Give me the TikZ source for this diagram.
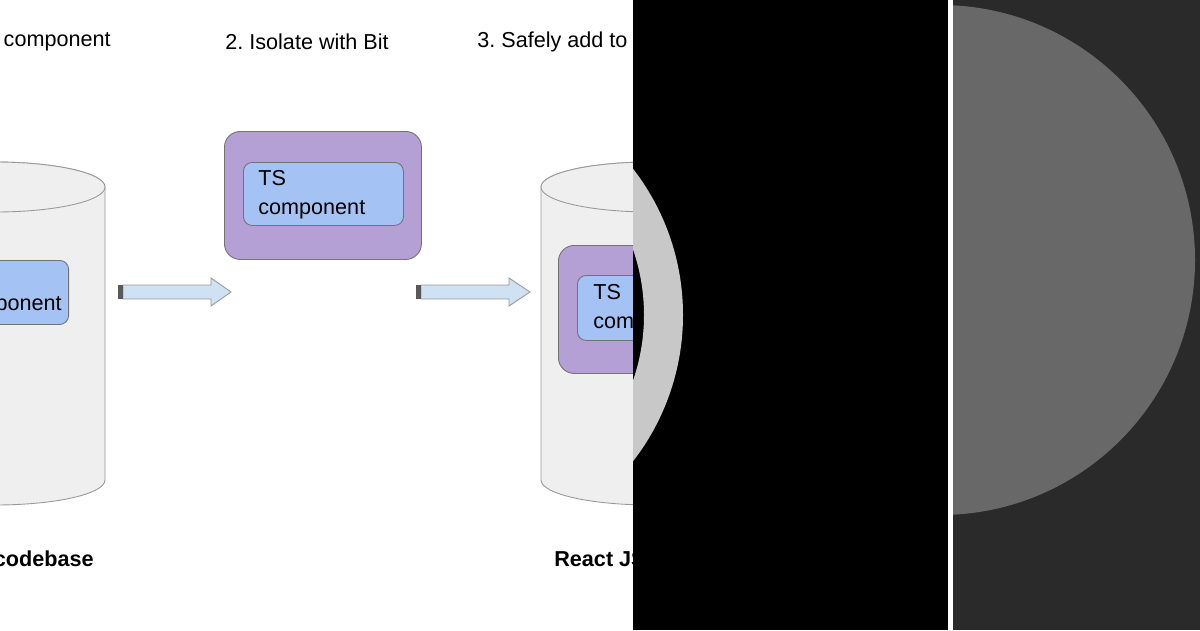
\documentclass[tikz,border=0pt]{standalone}
\usepackage{fontspec}
\setmainfont{Liberation Sans}
\frenchspacing
\begin{document}
\begin{tikzpicture}[x=0.02cm,y=-0.02cm,
  cyl/.style={fill=cylgray,draw=gray!80,line width=0.5pt},
  outerbox/.style={fill=purp,draw=gray!90!black,line width=0.5pt,rounded corners=9pt},
  innerbox/.style={fill=lblue,draw=gray!90!black,line width=0.5pt,rounded corners=5pt},
  lbl/.style={font=\fontsize{12.3}{15.5}\selectfont,anchor=west,align=left,inner sep=0pt},
  arrowshape/.style={fill=arrblue,draw=gray!80,line width=0.5pt}]
\definecolor{cylgray}{HTML}{EFEFEF}
\definecolor{purp}{HTML}{B4A0D4}
\definecolor{lblue}{HTML}{A4C2F4}
\definecolor{arrblue}{HTML}{CFE2F3}
\definecolor{dpanel}{HTML}{2A2A2A}
\definecolor{ring}{HTML}{C8C8C8}
\definecolor{bigc}{HTML}{686868}
\useasboundingbox (0,0) rectangle (1200,630);
\fill[white] (0,0) rectangle (633,630);
\begin{scope}
\clip (0,0) rectangle (633,630);
\node[lbl,anchor=east] (t1) at (111,42) {component};
\node[lbl] (t2) at (225,42) {2. Isolate with Bit};
\node[lbl] (t3) at (477,42) {3. Safely add to};
% left cylinder
\path[cyl] (-115,187) -- (-115,480) arc[start angle=180,end angle=0,x radius=110,y radius=25] -- (105,187) arc[start angle=0,end angle=-180,x radius=110,y radius=25] -- cycle;
\draw[cyl] (-5,187) ellipse[x radius=110,y radius=25];
\node[innerbox,minimum width=160*0.02cm,minimum height=64*0.02cm,anchor=north east] (b1) at (69,260) {};
\node[lbl,anchor=east] (b1t) at (62,306) {component};
% arrows
\path[arrowshape] (123,285) -- (211,285) -- (211,278) -- (231,292) -- (211,306) -- (211,299) -- (123,299) -- cycle;
\fill[gray!70!black] (118,285) rectangle (123,299);
\path[arrowshape] (421,285) -- (509,285) -- (509,278) -- (530,292) -- (509,306) -- (509,299) -- (421,299) -- cycle;
\fill[gray!70!black] (416,285) rectangle (421,299);
% middle box
\node[outerbox,minimum width=197*0.02cm,minimum height=128*0.02cm,anchor=north west] (p1) at (224,131) {};
\node[innerbox,minimum width=160*0.02cm,minimum height=63*0.02cm,anchor=north west] (i1) at (243,162) {};
\node[lbl] (i1t) at (258,195) {TS\\[1pt]component};
% right cylinder
\path[cyl] (541,187) -- (541,480) arc[start angle=180,end angle=0,x radius=110,y radius=25] -- (761,187) arc[start angle=0,end angle=-180,x radius=110,y radius=25] -- cycle;
\draw[cyl] (651,187) ellipse[x radius=110,y radius=25];
\node[outerbox,minimum width=197*0.02cm,minimum height=128*0.02cm,anchor=north west] (p2) at (558,245) {};
\node[innerbox,minimum width=160*0.02cm,minimum height=65*0.02cm,anchor=north west] (i2) at (577,275) {};
\node[lbl] (i2t) at (593,309) {TS\\[1pt]component};
\node[lbl,anchor=east,font=\fontsize{12.3}{15}\selectfont\bfseries] (c1) at (94,559) {codebase};
\node[lbl,font=\fontsize{12.3}{15}\selectfont\bfseries] (c2) at (554,559) {React JS};
\end{scope}
% black panel
\fill[black] (633,0) rectangle (948,630);
\begin{scope}
\clip (633,0) rectangle (948,630);
\fill[ring,even odd rule] (444,315) circle[radius=239] (444,315) circle[radius=200];
\end{scope}
\fill[white] (948,0) rectangle (953,630);
\fill[dpanel] (953,0) rectangle (1200,630);
\begin{scope}
\clip (953,0) rectangle (1200,630);
\fill[bigc] (940,260) circle[radius=255];
\end{scope}
\end{tikzpicture}
\end{document}
